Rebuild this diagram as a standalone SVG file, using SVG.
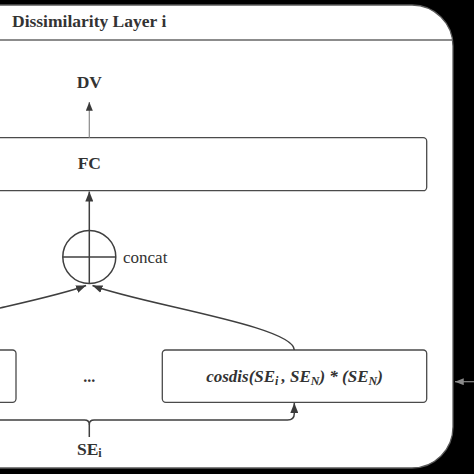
<svg xmlns="http://www.w3.org/2000/svg" width="474" height="474" viewBox="0 0 474 474">
  <defs>
    <style>
      .ln { fill: none; stroke: #3f3f3f; stroke-width: 1.5; }
      .thin { fill: none; stroke: #8a8a8a; stroke-width: 1.2; }
      .box { fill: #ffffff; stroke: #4a4a4a; stroke-width: 1.3; }
      .t { font-family: 'Liberation Serif', 'Times New Roman', serif; fill: #333333; }
      .b { font-weight: bold; }
    </style>
    <marker id="ah" viewBox="0 0 10 8" refX="10" refY="4" markerWidth="10" markerHeight="8" markerUnits="userSpaceOnUse" orient="auto">
      <path d="M0,0 L10,4 L0,8 Z" fill="#3a3a3a"/>
    </marker>
    <marker id="ahs" viewBox="0 0 10 8" refX="10" refY="4" markerWidth="9" markerHeight="7" markerUnits="userSpaceOnUse" orient="auto">
      <path d="M0,0 L10,4 L0,8 Z" fill="#3a3a3a"/>
    </marker>
    <marker id="ahg" viewBox="0 0 10 8" refX="10" refY="4" markerWidth="10" markerHeight="7" markerUnits="userSpaceOnUse" orient="auto">
      <path d="M0,0 L10,4 L0,8 Z" fill="#8a8a8a"/>
    </marker>
  </defs>
  <rect x="0" y="0" width="474" height="474" fill="#000000"/>

  <g id="container">
    <path d="M-2,5 H412 A41,41 0 0 1 453,46 V427 A41,41 0 0 1 412,468 H-2 Z" fill="#ffffff" stroke="#5a5a5a" stroke-width="1.3"/>
    <line x1="-2" y1="40" x2="453" y2="40" stroke="#666666" stroke-width="1.5"/>
    <text class="t b" x="12" y="26.5" font-size="17.5">Dissimilarity Layer i</text>
  </g>

  <g id="dv">
    <text class="t b" x="89.3" y="88" font-size="17.5" text-anchor="middle">DV</text>
  </g>

  <g id="fc">
    <rect class="box" x="-10" y="137.7" width="436.7" height="53" rx="3.5"/>
    <text class="t b" x="89.3" y="168.5" font-size="17.5" text-anchor="middle">FC</text>
  </g>

  <g id="concat">
    <circle class="ln" cx="89.3" cy="257" r="26.5"/>
    <line class="ln" x1="62.8" y1="257" x2="115.8" y2="257"/>
    <text class="t" x="123" y="262.5" font-size="17">concat</text>
  </g>

  <g id="left-box">
    <rect class="box" x="-200" y="350" width="216" height="52.3" rx="3.5"/>
  </g>

  <g id="ellipsis">
    <text class="t b" x="89.3" y="382" font-size="16" text-anchor="middle">...</text>
  </g>

  <g id="cosdis">
    <rect class="box" x="162.3" y="350" width="264.4" height="52.3" rx="3.5"/>
    <text class="t b" x="294.5" y="382" font-size="17" font-style="italic" text-anchor="middle">cosdis(SE<tspan font-size="12" dy="3">i</tspan><tspan dy="-3" dx="3">, SE</tspan><tspan font-size="12" dy="3">N</tspan><tspan dy="-3">) * (SE</tspan><tspan font-size="12" dy="3">N</tspan><tspan dy="-3">)</tspan></text>
  </g>

  <g id="sei">
    <text class="t b" x="89.3" y="455" font-size="17.5" text-anchor="middle">SE<tspan font-size="12" dy="2">i</tspan></text>
  </g>

  <g id="connectors">
    <line class="thin" x1="89.3" y1="137.7" x2="89.3" y2="102" marker-end="url(#ahs)"/>
    <line class="ln" x1="89.3" y1="283.5" x2="89.3" y2="191.5" marker-end="url(#ah)"/>
    <path class="ln" d="M294.3,350 C294.3,326 140,304 92.5,285.5" marker-end="url(#ah)"/>
    <path class="ln" d="M-115.7,350 C-115.7,326 38.6,304 86.1,285.5" marker-end="url(#ah)"/>
    <path class="ln" d="M-130,420 H84.5 Q89.3,420 89.3,424.5 Q89.3,420 94.1,420 H287.5 Q294.3,420 294.3,413.5 V403" marker-end="url(#ah)"/>
    <line class="ln" x1="89.3" y1="424" x2="89.3" y2="437"/>
    <line class="thin" x1="480" y1="381.7" x2="455" y2="381.7" marker-end="url(#ahg)"/>
  </g>
</svg>
